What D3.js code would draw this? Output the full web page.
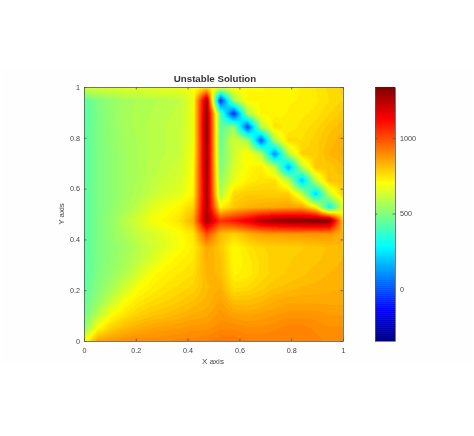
<!DOCTYPE html>
<html>
<head>
<meta charset="utf-8">
<script src="https://cdn.jsdelivr.net/npm/d3@7"></script>
<style>
  html, body { margin: 0; padding: 0; background: #fff; }
  svg { display: block; }
  text { font-family: "Liberation Sans", Arial, sans-serif; }
</style>
</head>
<body>
<div id="chart"></div>
<script>
// nodal values, first row is y = 1, last row is y = 0
const solution = [
  [640,650,655,660,665,670,675,680,690,730,700,715,710,710,715,720,730,745,765,780],
  [440,500,530,560,570,580,590,600,680,1280,-90,560,720,715,720,725,730,740,760,775],
  [430,490,530,560,575,585,595,605,680,1310,430,-80,560,730,715,730,740,750,775,800],
  [430,490,525,560,575,590,600,610,680,1320,440,540,-30,570,760,730,750,770,800,820],
  [430,490,525,555,570,590,600,610,680,1310,450,640,570,0,580,770,760,785,815,835],
  [430,490,520,550,570,590,600,615,690,1300,470,620,720,590,70,590,780,785,825,845],
  [430,490,520,550,570,590,610,625,700,1300,490,640,710,740,600,130,600,800,800,820],
  [430,490,520,550,570,600,620,640,710,1290,530,670,730,750,760,610,170,610,810,800],
  [430,490,520,550,580,610,640,660,720,1280,570,770,790,790,785,790,620,200,620,790],
  [430,490,520,560,600,660,690,720,780,1270,720,800,830,840,850,860,860,720,290,650],
  [430,490,530,590,640,690,720,750,840,1290,1050,1100,1160,1260,1300,1320,1330,1340,1345,800],
  [430,490,530,570,610,640,670,700,750,1000,820,780,830,860,870,875,880,880,880,830],
  [430,490,520,550,590,625,660,700,730,850,800,710,750,775,780,785,790,800,810,820],
  [430,490,525,560,600,650,700,725,745,840,810,715,735,765,785,790,800,805,815,825],
  [430,495,535,580,640,705,730,745,760,830,820,725,735,765,785,795,805,815,825,835],
  [440,505,560,630,700,730,750,765,780,820,840,755,765,785,805,815,825,830,835,840],
  [450,530,610,700,740,760,775,790,810,830,860,810,810,820,840,850,850,850,850,850],
  [465,590,700,750,780,800,810,825,840,850,880,860,850,860,870,880,880,880,870,870],
  [500,700,780,820,840,855,865,870,880,880,900,900,890,890,900,910,910,900,890,890],
  [680,860,880,890,900,900,900,910,910,920,930,930,920,920,920,920,920,910,900,890]
];
const xTicks = [0, 0.2, 0.4, 0.6, 0.8, 1];
const yTicks = [0, 0.2, 0.4, 0.6, 0.8, 1];
const barTicks = [0, 500, 1000];
const valueRange = [-344, 1338];
const jetStops = [0, 0.125, 0.375, 0.625, 0.875, 1];
const jetColors = ['#000080', '#0000ff', '#00ffff', '#ffff00', '#ff0000', '#800000'];

const width = 474, height = 436;
const plot = {left: 84, right: 343, top: 87, bottom: 341};
const bar = {left: 375, right: 395};
const axisColor = '#555';

const svg = d3.select('#chart').append('svg')
  .attr('width', width)
  .attr('height', height);

const defs = svg.append('defs');
defs.append('clipPath').attr('id', 'plotClip')
  .append('rect')
  .attr('x', plot.left).attr('y', plot.top)
  .attr('width', plot.right - plot.left)
  .attr('height', plot.bottom - plot.top);
// the reference is a soft, resampled screenshot
defs.append('filter').attr('id', 'soft')
  .append('feGaussianBlur').attr('stdDeviation', 0.7);
defs.append('filter').attr('id', 'softText')
  .append('feGaussianBlur').attr('stdDeviation', 0.35);

// the pasted screenshot is very slightly off white
svg.append('rect')
  .attr('x', 2).attr('y', 68)
  .attr('width', width - 4).attr('height', 297)
  .attr('fill', '#fefefe');

const x = d3.scaleLinear().domain([0, 1]).range([plot.left, plot.right]);
const y = d3.scaleLinear().domain([0, 1]).range([plot.bottom, plot.top]);
const c = d3.scaleLinear().domain(valueRange).range([plot.bottom, plot.top]);

const t = d3.scaleLinear().domain(valueRange).range([0, 1]);
const jet = d3.scaleLinear().domain(jetStops).range(jetColors).clamp(true);
const color = function (v) { return jet(t(v)); };

// shading only: bilinear refinement so the contour tracer keeps the
// diagonal diamonds apart instead of joining them across cell saddles
const refine = 6;
const nx = (solution[0].length - 1) * refine + 1;
const ny = (solution.length - 1) * refine + 1;
const grid = [];
for (let j = 0; j < ny; j++) {
  const j0 = Math.min(Math.floor(j / refine), solution.length - 2);
  const v = j / refine - j0;
  for (let i = 0; i < nx; i++) {
    const i0 = Math.min(Math.floor(i / refine), solution[0].length - 2);
    const u = i / refine - i0;
    grid.push(
      solution[j0][i0] * (1 - u) * (1 - v) +
      solution[j0][i0 + 1] * u * (1 - v) +
      solution[j0 + 1][i0] * (1 - u) * v +
      solution[j0 + 1][i0 + 1] * u * v
    );
  }
}
const levelStep = 16;
const levels = d3.range(valueRange[0], valueRange[1], levelStep);
const contours = d3.contours().size([nx, ny]).smooth(true).thresholds(levels)(grid);

const gx = d3.scaleLinear().domain([0.5, nx - 0.5]).range([plot.left, plot.right]);
const gy = d3.scaleLinear().domain([0.5, ny - 0.5]).range([plot.top, plot.bottom]);
const path = d3.geoPath(d3.geoTransform({
  point: function (px, py) { this.stream.point(gx(px), gy(py)); }
}));

svg.append('g')
  .attr('clip-path', 'url(#plotClip)')
  .append('g')
  .attr('filter', 'url(#soft)')
  .selectAll('path')
  .data(contours)
  .enter().append('path')
  .attr('d', path)
  .attr('fill', function (d) { return color(d.value + levelStep / 2); })
  .attr('stroke', 'none');

// colorbar
const barStep = (valueRange[1] - valueRange[0]) / 128;
const barLevels = d3.range(128).map(function (i) { return valueRange[0] + i * barStep; });
svg.append('g')
  .selectAll('rect')
  .data(barLevels)
  .enter().append('rect')
  .attr('x', bar.left)
  .attr('width', bar.right - bar.left)
  .attr('y', function (d) { return c(d + barStep); })
  .attr('height', c(0) - c(barStep) + 0.5)
  .attr('fill', function (d) { return color(d + barStep / 2); });

const root = svg.append('g').attr('filter', 'url(#softText)');

function styleAxis(g) {
  g.selectAll('path').attr('stroke', axisColor).attr('stroke-width', 0.8);
  g.selectAll('line').attr('stroke', axisColor).attr('stroke-width', 0.8);
  g.selectAll('text')
    .attr('fill', '#444')
    .style('font-size', '7.2px')
    .style('font-family', '"Liberation Sans", Arial, sans-serif');
}

root.append('g')
  .attr('transform', 'translate(0,' + plot.bottom + ')')
  .call(d3.axisBottom(x).tickValues(xTicks).tickFormat(d3.format('~g')).tickSizeInner(-2.5).tickSizeOuter(0).tickPadding(7))
  .call(styleAxis);
root.append('g')
  .attr('transform', 'translate(0,' + plot.top + ')')
  .call(d3.axisTop(x).tickValues(xTicks).tickFormat('').tickSizeInner(-2.5).tickSizeOuter(0))
  .call(styleAxis);
root.append('g')
  .attr('transform', 'translate(' + plot.left + ',0)')
  .call(d3.axisLeft(y).tickValues(yTicks).tickFormat(d3.format('~g')).tickSizeInner(-2.5).tickSizeOuter(0).tickPadding(4))
  .call(styleAxis);
root.append('g')
  .attr('transform', 'translate(' + plot.right + ',0)')
  .call(d3.axisRight(y).tickValues(yTicks).tickFormat('').tickSizeInner(-2.5).tickSizeOuter(0))
  .call(styleAxis);

root.append('g')
  .attr('transform', 'translate(' + bar.right + ',0)')
  .call(d3.axisRight(c).tickValues(barTicks).tickFormat(d3.format('d')).tickSizeInner(-2.5).tickSizeOuter(0).tickPadding(5))
  .call(styleAxis);
root.append('g')
  .attr('transform', 'translate(' + bar.left + ',0)')
  .call(d3.axisLeft(c).tickValues(barTicks).tickFormat('').tickSizeInner(-2.5).tickSizeOuter(0))
  .call(styleAxis);

root.append('text')
  .attr('x', 215)
  .attr('y', 82)
  .attr('text-anchor', 'middle')
  .attr('font-size', 9.7)
  .attr('font-weight', 'bold')
  .attr('fill', '#333')
  .text('Unstable Solution');

root.append('text')
  .attr('x', 213)
  .attr('y', 364)
  .attr('text-anchor', 'middle')
  .attr('font-size', 8)
  .attr('fill', '#444')
  .text('X axis');

root.append('text')
  .attr('transform', 'translate(64,' + (plot.top + plot.bottom) / 2 + ') rotate(-90)')
  .attr('text-anchor', 'middle')
  .attr('font-size', 8)
  .attr('fill', '#444')
  .text('Y axis');
</script>
</body>
</html>
